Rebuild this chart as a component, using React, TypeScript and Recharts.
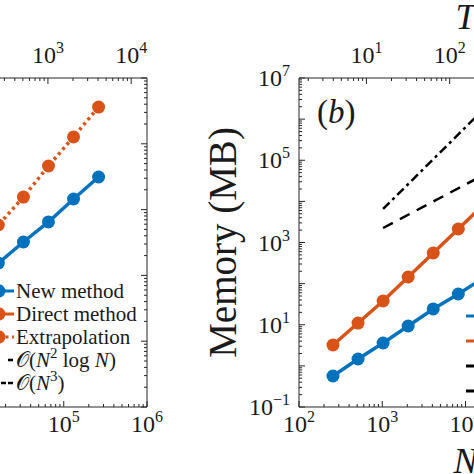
import React from 'react';
import { LineChart, Line, XAxis, YAxis } from 'recharts';

// problem size N (doubling) and measured values
const leftN = [8192, 16384, 32768, 65536, 131072, 262144];
const leftNew = [0.74, 1.54, 3.22, 6.49, 14.5, 31.3];
const leftExtrap = [2.2, 5.83, 15.5, 46.0, 127, 362];

const rightN = [256, 512, 1024, 2048, 4096, 8192, 16384];
const rightNew = [0.568, 1.47, 3.6, 9.33, 24.2, 56, 137];
const rightDirect = [3.22, 11.0, 37.8, 145, 556, 2130, 8170];

// reference slopes (memory panel)
const refN = [1024, 16384];
const refSteep = [6530, 1710000];
const refShallow = [2250, 43700];

const nDomain = [1e2, 1e6];
const tDomain = [1.549, 15488];
const leftYDomain = [1e-2, 1e3];
const rightYDomain = [1e-1, 1e7];
const rightYLabelExp = [-1, 1, 3, 5, 7];

const leftLegend = ['New method', 'Direct method', 'Extrapolation'];

const BLUE = '#0072BD';
const ORANGE = '#D95319';
const AXIS = '#262626';
const FONT = '"Liberation Serif", "DejaVu Serif", serif';
const LW = 3.5;
const R = 6.5;

const logTicks = (lo: number, hi: number) => {
  const out: number[] = [];
  for (let e = Math.floor(Math.log10(lo)); e <= Math.ceil(Math.log10(hi)); e++) {
    for (let m = 1; m < 10; m++) {
      const v = m * Math.pow(10, e);
      if (v >= lo * 0.9999 && v <= hi * 1.0001) out.push(v);
    }
  }
  return out;
};

const rows = (xs: number[], ys: number[]) => xs.map((n, i) => ({ n, v: ys[i] }));
// invisible carrier so the top T axis gets a domain
const tRows = (yLow: number) => tDomain.map((t) => ({ t, v: yLow }));

const expText = (e: number) => (e < 0 ? '\u2212' + -e : String(e));

const LogTick = (props: any) => {
  const { x, y, payload, side, labels } = props;
  const v = payload.value;
  const e = Math.round(Math.log10(v));
  const major = Math.abs(Math.log10(v) - e) < 1e-6;
  const len = major ? 6 : 3;
  let x2 = x;
  let y2 = y;
  if (side === 'bottom') y2 = y - len;
  if (side === 'top') y2 = y + len;
  if (side === 'left') x2 = x + len;
  if (side === 'right') x2 = x - len;
  const show = major && labels && (labels === true || labels.includes(e));
  let lx = x;
  let ly = y;
  let anchor = 'middle';
  if (side === 'bottom') ly = y + 25;
  if (side === 'top') ly = y - 15;
  if (side === 'left') {
    lx = x - 9;
    ly = y + 8;
    anchor = 'end';
  }
  return (
    <g>
      <line x1={x} y1={y} x2={x2} y2={y2} stroke={AXIS} strokeWidth={1} />
      {show && (
        <text x={lx} y={ly} textAnchor={anchor} fontFamily={FONT} fontSize={24} fill="#1a1a1a">
          10
          <tspan dy={-10} fontSize={16}>
            {expText(e)}
          </tspan>
        </text>
      )}
    </g>
  );
};

const Title = (props: any) => {
  const { viewBox, text, kind } = props;
  if (!viewBox) return null;
  const { x, y, width, height } = viewBox;
  if (kind === 'left') {
    const cx = x + 23;
    const cy = y + height / 2;
    return (
      <text x={cx} y={cy} transform={`rotate(-90 ${cx} ${cy})`} textAnchor="middle" dominantBaseline="central"
        fontFamily={FONT} fontSize={39} fill="#1a1a1a">
        {text}
      </text>
    );
  }
  const ty = kind === 'top' ? y + 29 : y + 66;
  return (
    <text x={x + width / 2} y={ty} textAnchor="middle" fontFamily={FONT} fontSize={36} fontStyle="italic" fill="#1a1a1a">
      {text}
    </text>
  );
};

const axisLine = { stroke: AXIS, strokeWidth: 1 };
const common = { tickSize: 0, tickMargin: 0, tickLine: false, interval: 0 as const, allowDataOverflow: true, axisLine };

const LeftPanel = () => (
  <LineChart width={423} height={474} margin={{ top: 0, right: 0, bottom: 0, left: 0 }}>
    <XAxis xAxisId="n" dataKey="n" type="number" scale="log" domain={nDomain} ticks={logTicks(nDomain[0], nDomain[1])}
      orientation="bottom" height={67} tick={<LogTick side="bottom" labels />} label={<Title kind="bottom" text="N" />} {...common} />
    <XAxis xAxisId="t" dataKey="t" type="number" scale="log" domain={tDomain} ticks={logTicks(tDomain[0], tDomain[1])}
      orientation="top" height={78} tick={<LogTick side="top" labels />} label={<Title kind="top" text="T" />} {...common} />
    <YAxis yAxisId="v" type="number" scale="log" domain={leftYDomain} ticks={logTicks(leftYDomain[0], leftYDomain[1])}
      orientation="left" width={60} tick={<LogTick side="left" labels />} {...common} />
    <YAxis yAxisId="r" type="number" scale="log" domain={leftYDomain} ticks={logTicks(leftYDomain[0], leftYDomain[1])}
      orientation="right" width={30} tick={<LogTick side="right" />} {...common} />
    <Line xAxisId="t" yAxisId="v" data={tRows(leftYDomain[0])} dataKey="v" stroke="none" dot={false}
      activeDot={false} isAnimationActive={false} />
    <Line xAxisId="n" yAxisId="v" data={rows(leftN, leftExtrap)} dataKey="v" stroke={ORANGE} strokeWidth={LW}
      strokeDasharray="3 3.5" dot={{ r: R, fill: ORANGE, strokeWidth: 0 }} activeDot={false} isAnimationActive={false} />
    <Line xAxisId="n" yAxisId="v" data={rows(leftN, leftNew)} dataKey="v" stroke={BLUE} strokeWidth={LW}
      dot={{ r: R, fill: BLUE, strokeWidth: 0 }} activeDot={false} isAnimationActive={false} />
  </LineChart>
);

const RightPanel = () => (
  <LineChart width={433} height={474} margin={{ top: 0, right: 0, bottom: 0, left: 0 }}>
    <XAxis xAxisId="n" dataKey="n" type="number" scale="log" domain={nDomain} ticks={logTicks(nDomain[0], nDomain[1])}
      orientation="bottom" height={67} tick={<LogTick side="bottom" labels />} label={<Title kind="bottom" text="N" />} {...common} />
    <XAxis xAxisId="t" dataKey="t" type="number" scale="log" domain={tDomain} ticks={logTicks(tDomain[0], tDomain[1])}
      orientation="top" height={78} tick={<LogTick side="top" labels />} label={<Title kind="top" text="T" />} {...common} />
    <YAxis yAxisId="v" type="number" scale="log" domain={rightYDomain} ticks={logTicks(rightYDomain[0], rightYDomain[1])}
      orientation="left" width={100} tick={<LogTick side="left" labels={rightYLabelExp} />}
      label={<Title kind="left" text="Memory (MB)" />} {...common} />
    <Line xAxisId="t" yAxisId="v" data={tRows(rightYDomain[0])} dataKey="v" stroke="none" dot={false}
      activeDot={false} isAnimationActive={false} />
    <Line xAxisId="n" yAxisId="v" data={rows(refN, refSteep)} dataKey="v" stroke="#000" strokeWidth={2.5}
      strokeDasharray="9 4 3 4" dot={false} activeDot={false} isAnimationActive={false} />
    <Line xAxisId="n" yAxisId="v" data={rows(refN, refShallow)} dataKey="v" stroke="#000" strokeWidth={2.5}
      strokeDasharray="11 8" dot={false} activeDot={false} isAnimationActive={false} />
    <Line xAxisId="n" yAxisId="v" data={rows(rightN, rightDirect)} dataKey="v" stroke={ORANGE} strokeWidth={LW}
      dot={{ r: R, fill: ORANGE, strokeWidth: 0 }} activeDot={false} isAnimationActive={false} />
    <Line xAxisId="n" yAxisId="v" data={rows(rightN, rightNew)} dataKey="v" stroke={BLUE} strokeWidth={LW}
      dot={{ r: R, fill: BLUE, strokeWidth: 0 }} activeDot={false} isAnimationActive={false} />
  </LineChart>
);

const legendRows = [291, 314, 337, 360, 383];
const rightLegendRows = [316, 341, 366, 391];
const rightLegendColors = [BLUE, ORANGE, '#000', '#000'];

const Overlay = () => (
  <svg width={474} height={474} style={{ position: 'absolute', left: 0, top: 0 }}>
    {leftLegend.map((name, i) => {
      const color = i === 0 ? BLUE : ORANGE;
      const y = legendRows[i];
      return (
        <g key={name}>
          <line x1={-14} y1={y} x2={14} y2={y} stroke={color} strokeWidth={3} strokeDasharray={i === 2 ? '3 3.5' : undefined} />
          <circle cx={-1} cy={y} r={R} fill={color} />
          <text x={16} y={y + 7} fontFamily={FONT} fontSize={21} fill="#1a1a1a">{name}</text>
        </g>
      );
    })}
    <line x1={13} y1={legendRows[3]} x2={-20} y2={legendRows[3]} stroke="#000" strokeWidth={2.5} strokeDasharray="5 9 2 9" />
    <text x={16} y={legendRows[3] + 7} fontFamily={FONT} fontSize={21} fill="#1a1a1a">
      {'\u{1D4AA}('}
      <tspan fontStyle="italic">N</tspan>
      <tspan dy={-9} fontSize={15}>2</tspan>
      <tspan dy={9}>{' log '}</tspan>
      <tspan fontStyle="italic">N</tspan>
      {')'}
    </text>
    <line x1={13} y1={legendRows[4]} x2={-20} y2={legendRows[4]} stroke="#000" strokeWidth={2.5} strokeDasharray="5 2" />
    <text x={16} y={legendRows[4] + 7} fontFamily={FONT} fontSize={21} fill="#1a1a1a">
      {'\u{1D4AA}('}
      <tspan fontStyle="italic">N</tspan>
      <tspan dy={-9} fontSize={15}>3</tspan>
      <tspan dy={9}>{')'}</tspan>
    </text>
    {rightLegendRows.map((y, i) => (
      <line key={y} x1={466} y1={y} x2={480} y2={y} stroke={rightLegendColors[i]} strokeWidth={3} />
    ))}
    <text x={317} y={123} fontFamily={FONT} fontSize={33} fill="#1a1a1a">
      (<tspan fontStyle="italic">b</tspan>)
    </text>
  </svg>
);

export default function App() {
  return (
    <div style={{ position: 'absolute', left: 0, top: 0, width: 474, height: 474, overflow: 'hidden', background: '#fff' }}>
      <div style={{ position: 'absolute', left: -246, top: 0 }}>
        <LeftPanel />
      </div>
      <div style={{ position: 'absolute', left: 199, top: 0 }}>
        <RightPanel />
      </div>
      <Overlay />
    </div>
  );
}
